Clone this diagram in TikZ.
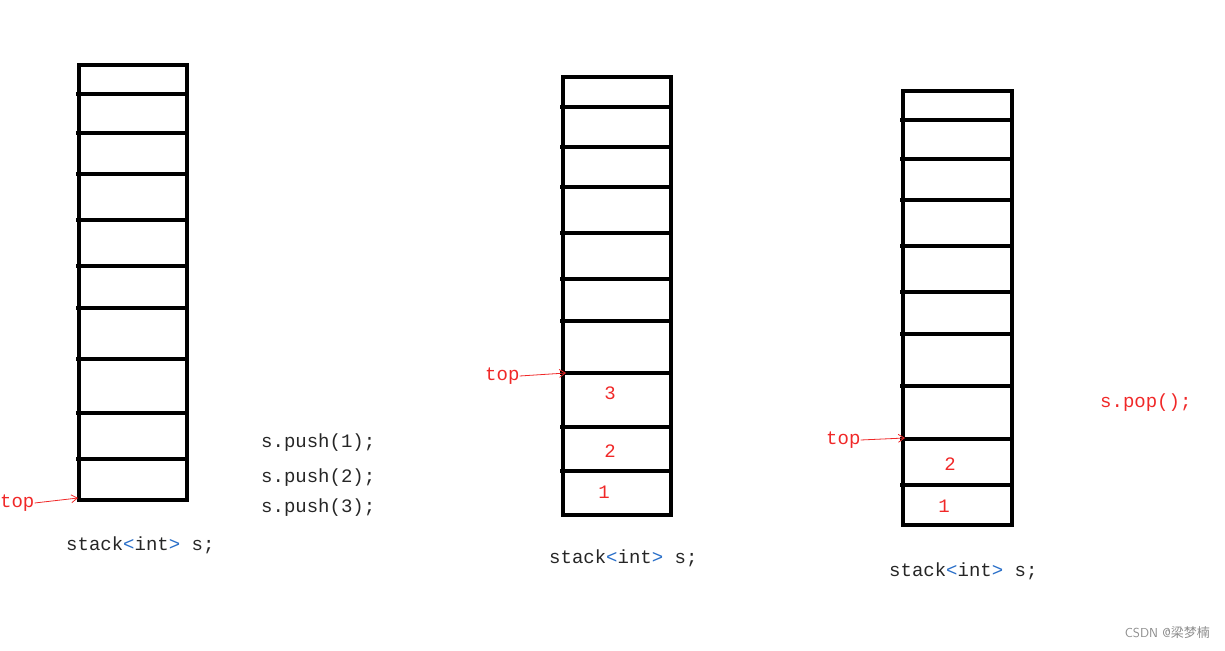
\documentclass[tikz,border=0pt]{standalone}
\usepackage{fontspec}
\setmainfont{Liberation Mono}
\newfontfamily\cjk{Noto Sans CJK SC}
\usetikzlibrary{arrows.meta}
\definecolor{redt}{RGB}{240,40,40}
\definecolor{bluet}{RGB}{40,110,200}
\tikzset{
  sline/.style={line width=3.5pt,black},
  code/.style={font=\fontsize{19}{20}\selectfont,text=black!85,anchor=west,inner sep=0pt},
  redtxt/.style={font=\fontsize{19}{20}\selectfont,text=redt,inner sep=0pt},
  toparrow/.style={redt,line width=0.8pt,-{Straight Barb[length=6pt,width=8pt]}}
}
\newcommand{\stk}{stack{\color{bluet}<}int{\color{bluet}>} s;}
\begin{document}
\begin{tikzpicture}[x=1pt,y=-1pt]
\useasboundingbox (0,0) rectangle (1225,650);
% stack 1
\draw[sline] (79,65) rectangle (187,500);
\foreach \yy in {94,133,174,220,266,308,359,413,459}{\draw[sline] (76,\yy) -- (187,\yy);}
% stack 2
\draw[sline] (563,77) rectangle (671,515);
\foreach \yy in {107,147,187,233,279,321,373,427,471}{\draw[sline] (560,\yy) -- (673,\yy);}
% stack 3
\draw[sline] (903,91) rectangle (1012,525);
\foreach \yy in {120,159,200,246,292,334,386,439,485}{\draw[sline] (900,\yy) -- (1014,\yy);}
% texts
\node[code] (l1) at (66,545) {\stk};
\node[code] (l2) at (549,558) {\stk};
\node[code] (l3) at (889,571) {\stk};
\node[code] (p1) at (261,443) {s.push(1);};
\node[code] (p2) at (261,478) {s.push(2);};
\node[code] (p3) at (261,508) {s.push(3);};
\node[redtxt,anchor=west] (pop) at (1100,403) {s.pop();};
% tops
\node[redtxt,anchor=west] (t1) at (0,503) {top};
\coordinate (a1) at (78,498);
\draw[toparrow] (t1.east) -- (a1);
\node[redtxt,anchor=west] (t2) at (485,376) {top};
\coordinate (a2) at (566,373);
\draw[toparrow] (t2.east) -- (a2);
\node[redtxt,anchor=west] (t3) at (826,440) {top};
\coordinate (a3) at (905,438);
\draw[toparrow] (t3.east) -- (a3);
% numbers
\node[redtxt] (n3) at (610,393) {3};
\node[redtxt] (n2) at (610,451) {2};
\node[redtxt] (n1) at (604,492) {1};
\node[redtxt] (m2) at (950,464) {2};
\node[redtxt] (m1) at (944,506) {1};
\node[font=\fontsize{13}{14}\selectfont\sffamily,text=black!45,anchor=east,inner sep=0pt] (wm) at (1210,633) {CSDN @{\cjk 梁梦楠}};
\end{tikzpicture}
\end{document}
